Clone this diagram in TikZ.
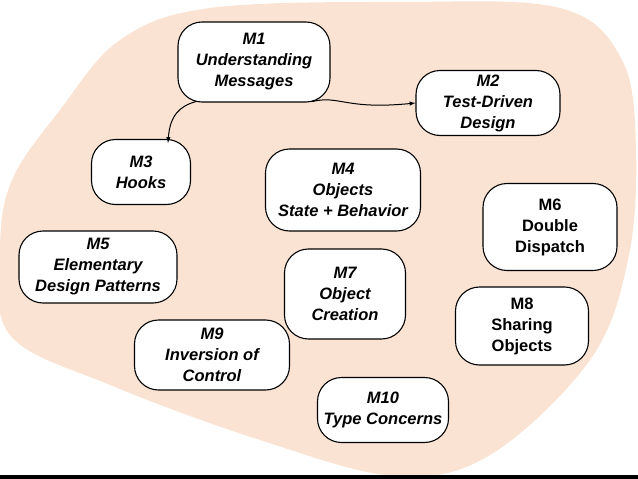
\documentclass[tikz,border=0pt]{standalone}
\usepackage{fontspec}
\setmainfont{Liberation Sans}
\begin{document}
\begin{tikzpicture}[x=1pt,y=-1pt,
 blob/.style={draw=black,line width=1.1pt,fill=white,rounded corners=24pt,align=center,
   font=\fontsize{16.5}{21}\selectfont\bfseries, inner sep=0pt},
 it/.style={font=\fontsize{16.5}{21}\selectfont\bfseries\itshape},
 arr/.style={-latex,line width=1pt}]
\useasboundingbox (0,0) rectangle (638,479);
\fill[fill={rgb,255:red,250;green,227;blue,210}] plot[smooth cycle,tension=0.6] coordinates
 {(120,40) (210,8) (400,2) (560,8) (622,60) (636,150) (628,260) (590,360) (490,455) (395,476) (260,440) (110,385) (10,335) (0,250) (12,180) (60,110)};
\fill[black] (0,475) rectangle (638,479);
\node[blob,it,minimum width=152pt,minimum height=80pt] (m1) at (254,62) {M1\\Understanding\\Messages};
\node[blob,it,minimum width=144pt,minimum height=65pt] (m2) at (488,103) {M2\\Test-Driven\\Design};
\node[blob,it,minimum width=99pt,minimum height=65pt] (m3) at (141,172) {M3\\Hooks};
\node[blob,it,minimum width=155pt,minimum height=82pt] (m4) at (343,190) {M4\\Objects\\State + Behavior};
\node[blob,it,minimum width=158pt,minimum height=72pt] (m5) at (98,267) {M5\\Elementary\\Design Patterns};
\node[blob,minimum width=134pt,minimum height=87pt] (m6) at (550,227) {M6\\Double\\Dispatch};
\node[blob,it,minimum width=121pt,minimum height=90pt] (m7) at (345,294) {M7\\Object\\Creation};
\node[blob,minimum width=133pt,minimum height=78pt] (m8) at (522,326) {M8\\Sharing\\Objects};
\node[blob,it,minimum width=155pt,minimum height=70pt] (m9) at (212,355) {M9\\Inversion of\\Control};
\node[blob,it,minimum width=131pt,minimum height=65pt] (m10) at (383,410) {M10\\Type Concerns};
\coordinate (a1) at ([xshift=58pt,yshift=1pt]m1.south);
\coordinate (b1) at ([xshift=-58pt,yshift=1pt]m1.south);
\coordinate (e3) at ([xshift=27pt,yshift=-4pt]m3.north);
\draw[arr] (a1) .. controls (340,95) and (345,110) .. (m2.west);
\draw[arr] (b1) .. controls (180,106) and (170,115) .. (e3);
\end{tikzpicture}
\end{document}
